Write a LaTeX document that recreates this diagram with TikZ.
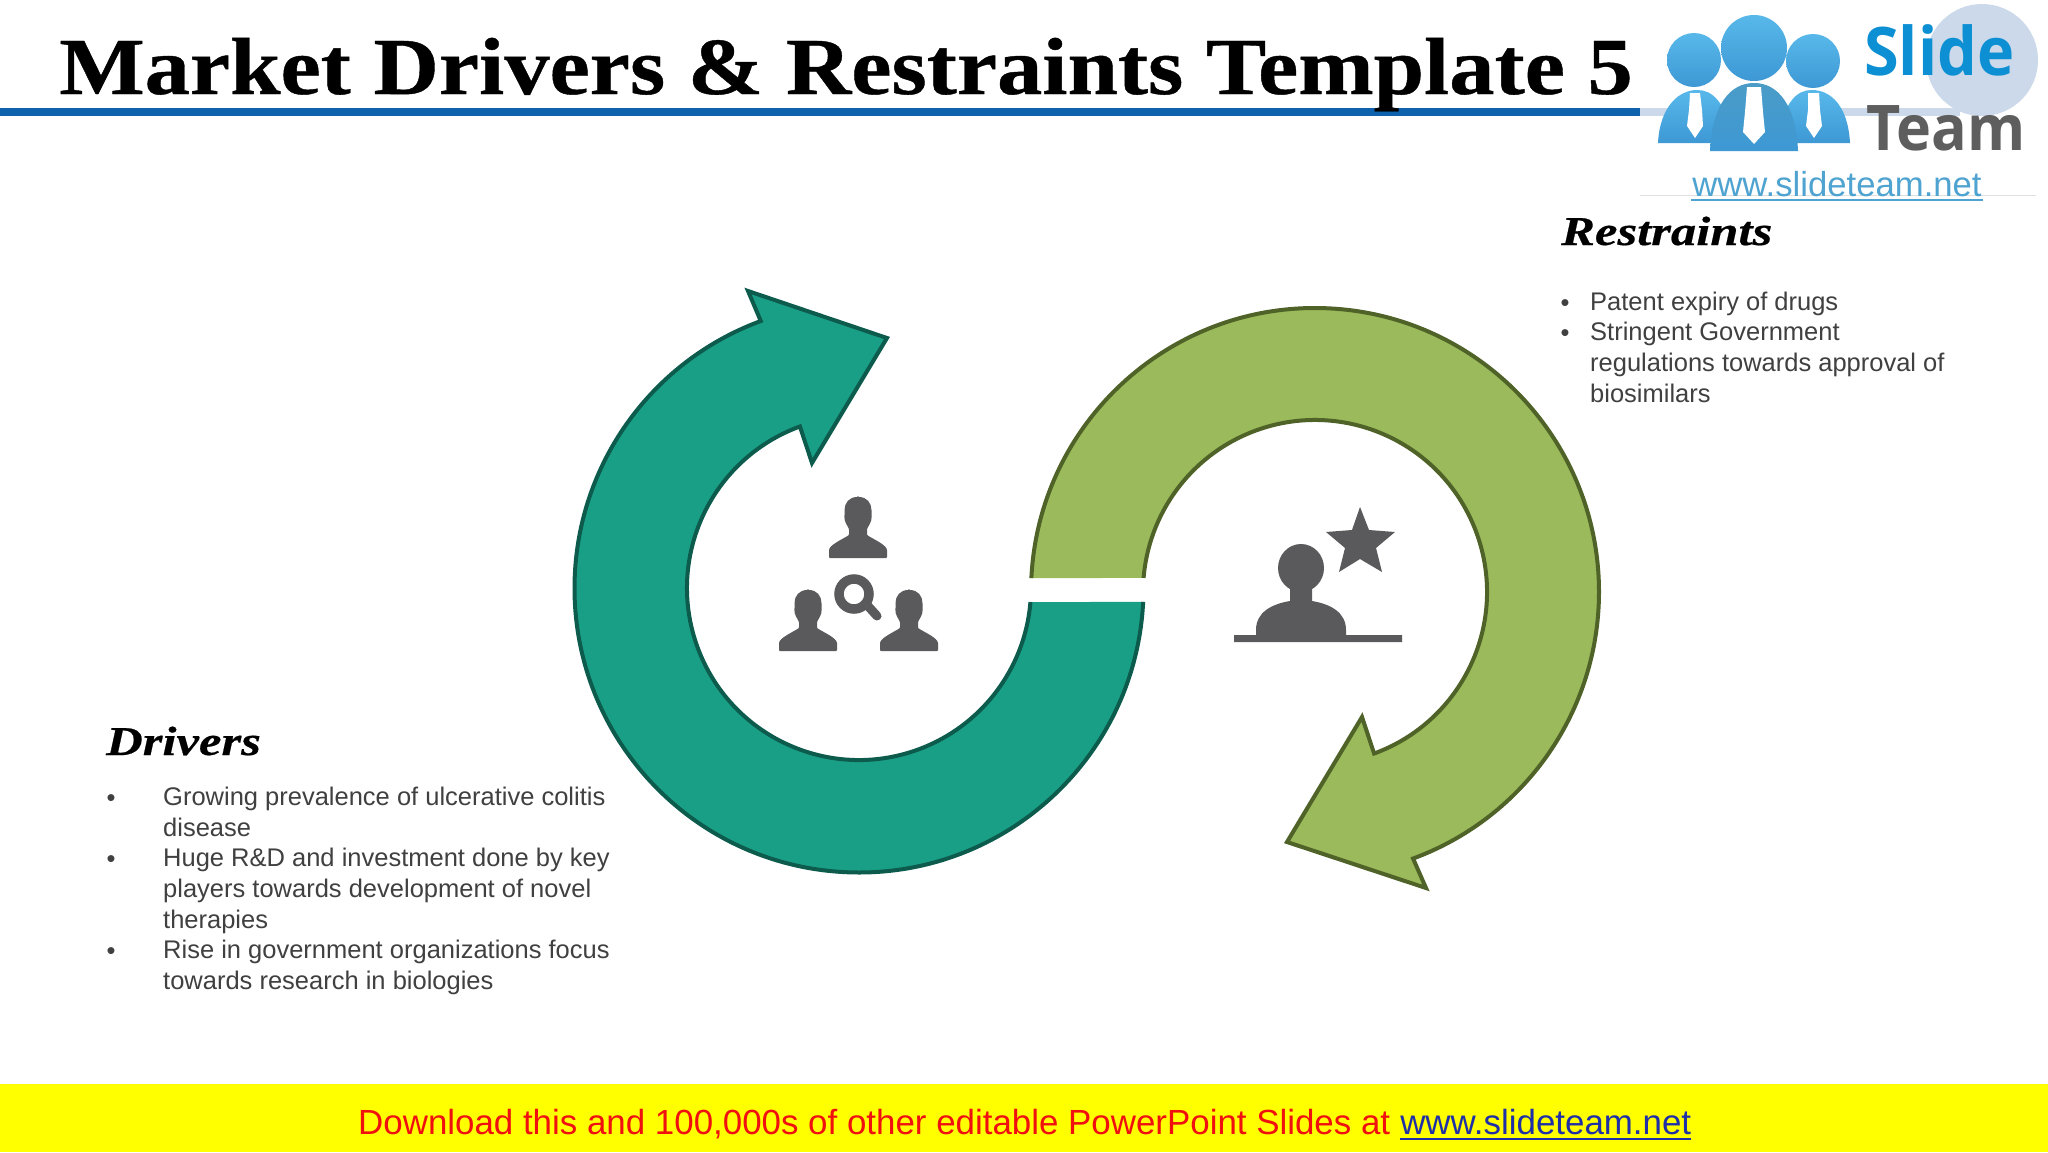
\documentclass[tikz,border=0pt]{standalone}
\usepackage{fontspec}
\setmainfont{Liberation Sans}
\newfontfamily\titleface[BoldFeatures={FakeStretch=1.118,FakeBold=0.5}]{Liberation Serif}
\newfontfamily\headface[BoldItalicFeatures={FakeStretch=1.235,FakeBold=0.5}]{Liberation Serif}
\newfontfamily\logoface[BoldFeatures={FakeStretch=0.94}]{Open Sans}
\usetikzlibrary{calc}
\definecolor{tealfill}{HTML}{1A9F87}
\definecolor{tealline}{HTML}{0C5B4C}
\definecolor{greenfill}{HTML}{9ABA5B}
\definecolor{greenline}{HTML}{4F6228}
\definecolor{icongrey}{HTML}{5A595C}
\definecolor{bodygrey}{HTML}{404040}
\definecolor{rulecol}{HTML}{0F62AC}
\definecolor{logoblue}{HTML}{4BA9DF}
\definecolor{logotop}{HTML}{58B8EA}
\definecolor{logobot}{HTML}{3D98D4}
\definecolor{logotext}{HTML}{0C8FD3}
\definecolor{logogrey}{HTML}{5E5E5E}
\definecolor{urlblue}{HTML}{4FA3D1}
\definecolor{halo}{HTML}{CBD9EA}
\definecolor{footyellow}{HTML}{FFFF00}
\definecolor{footred}{HTML}{F01010}
\definecolor{footblue}{HTML}{1F2FA8}
\tikzset{
  titletext/.style={anchor=base west,inner sep=0pt,font=\titleface\bfseries\fontsize{81}{90}\selectfont,text=black},
  headtext/.style={anchor=base west,inner sep=0pt,font=\headface\bfseries\itshape\fontsize{41}{46}\selectfont,text=black},
  bodytext/.style={anchor=north west,inner sep=0pt,align=left,text=bodygrey,font=\fontsize{25.5}{30.7}\selectfont},
  bullettext/.style={anchor=base,inner sep=0pt,text=bodygrey,font=\fontsize{25.5}{30.7}\selectfont},
  footertext/.style={anchor=base west,inner sep=0pt,font=\fontsize{34.9}{38}\selectfont},
  tealfillshape/.style={fill=tealfill,draw=none},
  tealedge/.style={draw=tealline,line width=4pt,line join=miter},
  greenfillshape/.style={fill=greenfill,draw=none},
  greenedge/.style={draw=greenline,line width=4pt,line join=miter},
  iconshape/.style={fill=icongrey,draw=none},
  person/.pic={
    \path[iconshape,rounded corners=0.8pt] (0,0)
      .. controls (-9,0) and (-13.5,-6) .. (-13.5,-14)
      -- (-13.5,-19) .. controls (-14,-24) and (-11,-28) .. (-9,-32)
      -- (-9,-38) .. controls (-15,-42) and (-29,-48) .. (-29,-54)
      -- (-29,-61) -- (29,-61) -- (29,-54)
      .. controls (29,-48) and (15,-42) .. (9,-38)
      -- (9,-32) .. controls (11,-28) and (14,-24) .. (13.5,-19)
      -- (13.5,-14) .. controls (13.5,-6) and (9,0) .. (0,0) -- cycle;
  },
  logobody/.style={top color=logotop,bottom color=logobot,draw=none},
  logobodyfront/.style={top color=logotop!85!black,bottom color=logobot,draw=none},
  tiewhite/.style={fill=white,draw=none},
}
\begin{document}
\begin{tikzpicture}[x=1pt,y=1pt]
\useasboundingbox (0,-1152) rectangle (2048,0);
\fill[white] (0,-1152) rectangle (2048,0);
% header rule
\fill[rulecol] (0,-108) rectangle (1640,-116);
% title
\node[titletext] (title) at (59,-94) {Market Drivers \& Restraints Template 5};
% logo
\fill[white] (1640,0) rectangle (2040,-195);
\fill[halo] (1640,-108) rectangle (1960,-116);
\fill[halo] (1982,-60) circle (56);
\draw[black!12,line width=0.8pt] (1640,-195) -- (2036,-195);
\path[logobody] (1694,-60) circle (27);
\path[logobody] (1813,-61) circle (27);
\path[logobody] (1658,-143) .. controls (1660,-105) and (1680,-90) .. (1697,-90) .. controls (1712,-90) and (1725,-100) .. (1735,-143) -- cycle;
\path[logobody] (1850,-143) .. controls (1848,-105) and (1830,-90) .. (1812,-90) .. controls (1797,-90) and (1785,-100) .. (1775,-143) -- cycle;
\path[logobodyfront] (1710,-151) .. controls (1712,-105) and (1730,-83) .. (1754,-83) .. controls (1778,-83) and (1796,-105) .. (1798,-151) -- cycle;
\path[logobody] (1754,-48) circle (33);
\path[tiewhite] (1690,-93) -- (1700,-93) -- (1702,-110) -- (1703,-126) -- (1695,-138) -- (1687,-126) -- (1689,-110) -- cycle;
\path[tiewhite] (1747,-87) -- (1761,-87) -- (1763,-112) -- (1765,-132) -- (1754,-144) -- (1743,-132) -- (1745,-112) -- cycle;
\path[tiewhite] (1808,-93) -- (1819,-93) -- (1820,-110) -- (1822,-126) -- (1814,-138) -- (1806,-126) -- (1808,-110) -- cycle;
\node[anchor=base west,inner sep=0pt,font=\logoface\bfseries\fontsize{67}{70}\selectfont,text=logotext] (logoslide) at (1864,-75) {Slide};
\node[anchor=base west,inner sep=0pt,font=\logoface\bfseries\fontsize{63}{70}\selectfont,text=logogrey] (logoteam) at (1866,-150) {Team};
\node[anchor=base,inner sep=0pt,font=\fontsize{34.7}{38}\selectfont,text=urlblue] (logourl) at (1837,-196) {www.slideteam.net};
\draw[urlblue,line width=2.5pt] (1691,-200) -- (1983,-200);
% teal arrow
\coordinate (tc) at (859,-588);
\path[tealfillshape] ($(tc)+(-2.8:284.5)$) arc[start angle=-2.8,end angle=-249.8,radius=284.5]
  -- (748,-291) -- (887,-338) -- (812,-463) -- ($(tc)+(110.1:172)$)
  arc[start angle=-249.9,end angle=-4.7,radius=172] -- cycle;
\path[tealedge] ($(tc)+(-2.8:284.5)$) arc[start angle=-2.8,end angle=-249.8,radius=284.5]
  -- (748,-291) -- (887,-338) -- (812,-463) -- ($(tc)+(110.1:172)$)
  arc[start angle=-249.9,end angle=-4.7,radius=172];
% green arrow
\coordinate (gc) at (1315,-592);
\path[greenfillshape] ($(gc)+(177.2:284)$) arc[start angle=177.2,end angle=-69.8,radius=284]
  -- (1426,-888) -- (1287,-842) -- (1362,-717) -- ($(gc)+(-69.9:172)$)
  arc[start angle=-69.9,end angle=175.3,radius=172] -- cycle;
\path[greenedge] ($(gc)+(177.2:284)$) arc[start angle=177.2,end angle=-69.8,radius=284]
  -- (1426,-888) -- (1287,-842) -- (1362,-717) -- ($(gc)+(-69.9:172)$)
  arc[start angle=-69.9,end angle=175.3,radius=172];
% icon: people & magnifier
\pic at (858,-497) {person};
\pic at (808,-590) {person};
\pic at (909,-590) {person};
\draw[icongrey,line width=9.5pt] (854,-594) circle (15);
\draw[icongrey,line width=9pt,line cap=round] (868,-606) -- (877,-616);
% icon: person & star
\path[iconshape] (1360,-507) -- (1369,-530) -- (1395,-532) -- (1376,-548) -- (1382,-572) -- (1360,-559) -- (1339,-572) -- (1345,-548) -- (1326,-532) -- (1352,-530) -- cycle;
\path[iconshape] (1301,-568) ellipse (23 and 24);
\path[iconshape] (1290,-585) -- (1312,-585) -- (1312,-601)
  .. controls (1330,-604) and (1346,-612) .. (1346,-630) -- (1346,-635) -- (1402,-635) -- (1402,-642) -- (1234,-642) -- (1234,-635) -- (1256,-635) -- (1256,-630)
  .. controls (1256,-612) and (1272,-604) .. (1290,-601) -- cycle;
% restraints
\node[headtext] (restraintshead) at (1561,-245) {Restraints};
\node[bullettext] (rb1) at (1565,-311) {•};
\node[bodytext] (ri1) at (1590,-292) {Patent expiry of drugs};
\node[bullettext] (rb2) at (1565,-341) {•};
\node[bodytext] (ri2) at (1590,-322) {Stringent Government\\regulations towards approval of\\biosimilars};
% drivers
\node[headtext] (drivershead) at (106,-755) {Drivers};
\node[bullettext] (db1) at (111,-806) {•};
\node[bodytext] (di1) at (163,-787) {Growing prevalence of ulcerative colitis\\disease};
\node[bullettext] (db2) at (111,-867) {•};
\node[bodytext] (di2) at (163,-848) {Huge R\&D and investment done by key\\players towards development of novel\\therapies};
\node[bullettext] (db3) at (111,-959) {•};
\node[bodytext] (di3) at (163,-940) {Rise in government organizations focus\\towards research in biologies};
% footer
\fill[footyellow] (0,-1084) rectangle (2048,-1152);
\node[footertext,text=footred] (foot) at (358,-1134) {Download this and 100,000s of other editable PowerPoint Slides at};
\node[footertext,text=footblue] (footurl) at ($(foot.base east)+(9.5,0)$) {www.slideteam.net};
\draw[footblue,line width=2pt] ($(footurl.base west)+(0,-5)$) -- ($(footurl.base east)+(0,-5)$);
\end{tikzpicture}
\end{document}
